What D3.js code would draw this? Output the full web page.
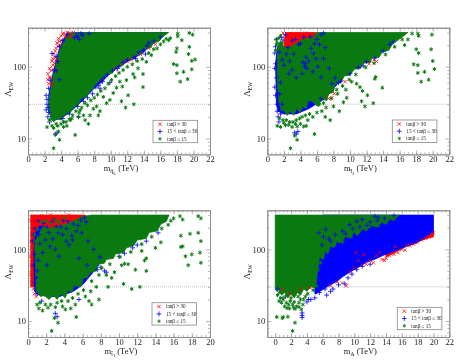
<!DOCTYPE html>
<html>
<head>
<meta charset="utf-8">
<script src="https://d3js.org/d3.v7.min.js"></script>
<style>
  html, body { margin: 0; padding: 0; background: #fff; }
  svg { display: block; filter: blur(0.5px); }
  text { font-family: "Liberation Serif", serif; fill: #222; }
</style>
</head>
<body>
<div id="chart"></div>
<script>
const legendLabels = ["tanβ > 30", "15 < tanβ ≤ 30", "tanβ ≤ 15"];
const yMajor = [10, 100];
const yMinor = [6, 7, 8, 9, 20, 30, 40, 50, 60, 70, 80, 90, 200, 300];
const yFine = 30;

// 外形轮廓 = 点太密读不出单点的区域，边界从图上估读 [m, Λ]
const p1BlueHull = [[2.5,24],[2.5,40],[2.9,70],[3.3,110],[3.7,165],[4.2,230],[4.8,295],[6,300],[16.8,300],[16,250],[15,205],[14,165],[13,135],[12,118],[11,100],[10,82],[9,64],[8,50],[7,38],[6,29],[5,23],[4,19],[3,18]];
const p1GreenHull = [[2.7,20],[2.5,30],[2.7,45],[3.1,80],[3.3,100],[3.7,150],[4,190],[4.5,240],[4.9,290],[7,300],[17,300],[16.3,262],[15.8,225],[15.1,215],[14.9,185],[14.1,178],[13.8,150],[13,146],[12.8,130],[11.8,124],[11.5,105],[10.6,98],[10.2,82],[9.4,76],[9.1,64],[8.4,60],[8.1,50],[7.5,47],[7.1,38],[6.4,36],[6,28],[5.5,27],[5,22],[4.5,22],[4,18],[3.5,19],[3.1,17]];
const p1Red = [[2.4,80],[2.6,95],[2.7,70],[2.9,120],[3.0,105],[3.1,150],[3.3,135],[3.4,180],[3.5,215],[3.7,245],[3.9,200],[4.0,270],[4.3,295],[4.6,280],[5.0,295],[5.2,260],[5.5,300],[12.0,118],[11.4,112],[12.5,125],[10.6,92],[13.6,148],[14.6,182],[15.4,205],[2.5,58],[2.9,55],[2.6,72],[2.8,88],[3.0,130],[3.2,112],[3.3,165],[3.6,195],[3.8,225],[4.1,235],[4.2,285],[4.5,260],[4.8,300],[5.1,275],[3.1,92],[3.4,125],[2.8,62],[2.4,66]];
const p1Blue = [[2.2,40],[2.3,30],[2.2,25],[2.4,20],[2.6,17],[2.5,50],[2.7,65],[2.9,153],[3.4,140],[3.8,190],[4.2,230],[4.7,280],[6,260],[6.2,240],[5.9,270],[6.4,290],[7.4,290],[16,260],[15.2,230],[14.6,215],[14,170],[13.4,160],[12.8,135],[12,125],[11,100],[10.2,88],[9.6,78],[8.7,60],[8.5,55],[8.9,65],[7.8,42],[7.2,37],[6.1,20],[4.2,19],[5,22],[13,130],[11.5,115],[10.8,95],[9.2,70],[6.7,33],[6,28],[3.3,11.5],[3.5,12],[9,62],[8.2,52],[14.2,150],[3.4,88],[3.8,66],[5.6,255],[6.6,275],[2.3,35],[2.4,27],[2.5,23],[13.9,165],[14.4,195],[9.9,60],[8.7,50],[3.2,90],[3.6,118]];
const p1Green = [[18.1,290],[18.1,265],[18.6,234],[19.5,295],[19.9,280],[17,234],[18,180],[17.9,161],[19.5,189],[19.4,150],[19.8,121],[20.2,126],[17.6,109],[18,105],[19.8,92],[18.8,85],[18,81],[19.3,67],[18.4,62],[12.9,71],[13.9,52],[13.9,79],[12.1,40],[11.8,27],[12.8,30],[11.3,33],[11.4,53],[11.1,62],[9.9,34.5],[9.5,31],[8.7,24],[7.9,26],[8.5,21],[7.3,16],[6.9,18],[5.7,11.2],[6.1,20],[4.7,15],[3.7,12.5],[3.8,9.6],[3.1,7.3],[3.3,11.3],[2.9,15],[2.3,14.4],[5.1,18],[6.3,25],[6.7,21],[7.5,21],[8.3,28],[9.1,38],[10.3,43],[10.7,51],[11.9,65],[12.7,79],[13.3,95],[14.3,117],[14.9,145],[15.6,180],[16.4,225],[17.2,250],[5.4,21],[4.3,14.5],[3.1,14],[3.4,16],[3.6,15],[4,16],[4.3,17],[4.6,17],[5,18.5],[5.3,19],[5.8,24],[6.2,23],[6.5,27],[6.9,31],[7.2,29],[7.6,34],[8,37],[8.4,41],[8.8,46],[9.3,50],[9.7,58],[10.1,65],[10.6,74],[11,82],[11.5,90],[12,100],[12.6,108],[13.2,120],[13.8,128],[14.6,155],[15.2,175],[16,205],[16.7,245],[2.6,18],[2.9,18.5]];

const p2RedHull = [[2,190],[2.2,300],[5.9,300],[6.3,295],[5.9,235],[4.2,185],[3,165]];
const p2BlueHull = [[1.1,30],[1,110],[1.2,185],[2,185],[3,170],[4.5,215],[5.8,245],[6.3,300],[8,200],[8.5,58],[7,36],[5,26],[3.5,22],[2,22],[1.3,24]];
const p2GreenHull = [[1.3,200],[1.6,230],[2,190],[2.4,185],[3,195],[3.5,210],[4.2,240],[5,250],[5.8,290],[6.2,300],[17,300],[16.5,270],[15.8,235],[15.1,205],[14.7,170],[13.9,160],[13.5,135],[12.6,132],[12.5,115],[11.6,112],[11.3,95],[10.5,92],[10,76],[9.3,74],[8.9,60],[8.2,58],[8,44],[7.4,42],[7.2,34],[6.5,35],[6.2,28],[5.9,29],[5.4,33],[5,34],[4.7,26],[4.3,28],[4,23],[3.5,26],[3.2,21],[2.8,24],[2.4,21],[2,25],[1.7,24],[1.4,33],[1.2,60],[1.2,120]];
const p2Red = [[2.2,250],[2.5,220],[2.8,290],[3.2,240],[3.6,290],[4,270],[4.6,295],[5.3,285],[5.6,270],[12.3,110],[13.2,118],[12.9,125],[9.4,62],[7.8,37],[7.4,36],[8.1,42],[1.9,295],[2.1,270]];
const p2Blue = [[1,190],[0.9,155],[1.1,240],[1,110],[0.9,95],[1.1,70],[0.9,52],[1,40],[1.2,30],[1.2,24],[1.3,20],[1.4,17],[1.6,22],[2.2,280],[3,230],[3.8,205],[4,210],[4.6,110],[4.5,100],[5.6,153],[5,120],[5.3,180],[6,240],[6.3,205],[7,185],[2.3,150],[2.7,120],[3.2,150],[2,105],[3.5,70],[4.2,80],[5.5,85],[6.5,72],[7.8,58],[8.6,60],[8.9,63],[10,80],[11,98],[11.6,103],[12,118],[13,132],[14,165],[14.8,205],[15.2,222],[3.3,12],[3.5,11.5],[3.7,12.5],[6.5,36],[1.5,160],[1.8,125],[2.5,185],[3.4,240],[4.4,260],[5.2,260],[5.7,210],[4.7,135],[4.3,115],[4.8,95],[5.9,130],[6.8,130],[7.5,95],[8.2,70],[2.6,80],[1.6,60],[1.5,42],[1.8,30],[3,90],[6.1,100],[1.7,255],[1.9,235],[6.5,280],[6.8,295]];
const p2Green = [[18.2,290],[18.3,270],[19.9,280],[18,175],[18.3,155],[19.8,175],[20,120],[20.2,93],[17.7,108],[18.2,105],[19,85],[18.2,82],[19.5,66],[18.6,62],[17.5,290],[17,240],[16.6,200],[13.9,51],[13,68],[13.1,72],[12.1,40],[11.4,33],[11.8,28],[12.8,31],[11.2,52],[11.5,46],[10.8,58],[10.2,62],[9.6,37],[9.2,32],[8.7,24],[8,28],[7.6,18],[7,20],[5.7,11.5],[4.4,14.7],[4,16],[3.6,9.6],[2.8,7.3],[3.3,11],[1.2,15],[1.6,14.5],[2.2,15.3],[3,14.5],[3.6,14.7],[4.7,15],[5.5,20],[6,23],[6.6,24],[7.1,27],[8.5,42],[9.5,48],[1.1,240],[1.1,205],[1,170],[1.5,19],[1.9,18],[2.3,18],[2.7,17],[3.1,17],[3.5,18],[3.9,19],[4.2,20],[4.6,21],[5.1,22],[2,16.5],[2.6,15.5],[3.4,16],[4.9,18],[6.3,30],[6.8,31],[7.7,36],[8.4,48],[9.1,54],[9.9,66],[10.7,78],[11.9,98],[12.9,112],[14.3,148],[15.4,190],[16.3,240],[1.4,250],[1.6,270],[1.8,215],[1.2,215]];

const p3RedHull = [[0.3,30],[0.3,300],[6.3,300],[6.2,280],[5,215],[3.3,175],[1.7,175],[0.9,105],[0.9,30]];
const p3BlueHull = [[0.7,26],[0.65,100],[0.8,170],[1.3,215],[2.5,190],[4,215],[5.3,250],[6.3,290],[7.8,60],[6,32],[5,26],[3.5,22],[2,22],[1,24]];
const p3GreenHull = [[0.9,27],[0.8,70],[0.75,110],[1,150],[1.7,210],[2.4,195],[3.3,210],[4.2,225],[5,250],[6.1,290],[7,300],[15.5,300],[15.2,245],[14.6,225],[14.2,180],[13.3,172],[13,142],[12,135],[11.6,112],[10.8,105],[10.5,90],[9.6,86],[9.4,75],[8.6,72],[8.4,64],[7.7,62],[7.5,50],[6.9,48],[6.5,40],[6.1,40],[5.8,30],[5.1,31],[4.8,25],[4.4,27],[4.1,21],[3.6,24],[3.2,20],[2.8,23],[2.3,20],[1.8,23],[1.4,22],[1,24]];
const p3Red = [[0.3,45],[0.4,60],[0.3,80],[0.4,105],[0.3,130],[0.4,165],[0.5,210],[0.3,250],[0.6,290],[1,260],[1.5,295],[2,280],[2.5,300],[3,270],[3.5,290],[4,265],[4.5,300],[5.2,290],[0.5,34],[0.6,28],[0.7,24],[0.9,22]];
const p3Blue = [[0.6,60],[0.7,85],[0.5,130],[0.6,160],[0.8,195],[1.1,250],[1.7,230],[2.1,205],[2.6,240],[3.1,210],[3.3,170],[3.8,160],[4.2,130],[4.5,115],[4.8,155],[5.3,180],[5.8,255],[6.4,240],[1.3,120],[1.6,90],[2.7,140],[3,100],[2.1,60],[5.6,75],[6.5,60],[7.6,52],[8,56],[8.4,50],[8.6,48],[10,80],[10.6,88],[11.5,105],[12,115],[13,130],[14.3,170],[0.9,40],[1,24],[1.5,19],[3,12.8],[3.2,11.5],[5.6,20],[1.2,160],[1.9,135],[2.3,170],[3.6,205],[4.4,245],[5,225],[5.5,215],[4.2,195],[4.9,135],[5.9,170],[6.6,130],[7.2,100],[7.9,78],[3.4,80],[2.4,110],[1.1,70],[1,50],[0.7,34],[6.2,275],[3.9,250],[2.9,260]];
const p3Green = [[16,270],[15.7,250],[15.4,220],[16.7,290],[17,260],[18.7,290],[19,270],[16.8,155],[17.8,165],[18.7,170],[19,130],[17,110],[18.9,90],[16.8,108],[17.3,80],[18,85],[19,65],[17.6,60],[13,75],[13,50],[14,105],[14.6,125],[12.8,70],[12.3,30],[11.4,28],[11.8,52],[10.5,33],[10.3,60],[11,62],[9.2,40],[8.8,30],[8.6,44],[7.8,20],[7,17],[6.7,19],[5.3,11.4],[4.1,14.5],[3.8,16],[3.3,9.5],[2.6,7.3],[2.9,11],[1.2,15],[1.6,14],[2.2,15.4],[3,15.6],[4.7,15],[5.2,17],[6.3,22],[6.9,26],[7.5,30],[9.5,48],[10.6,63],[12.5,95],[1,17],[1.5,240],[2,250],[3,255],[4,270],[1,190],[0.7,160],[0.8,130],[2.5,230],[3.4,240],[1.3,18],[1.9,17],[2.5,17],[3.2,18],[3.7,19],[4.4,19],[4.9,21],[5.5,24],[6.1,27],[7,36],[7.8,44],[8.1,55],[9,62],[10.1,78],[11.3,92],[12.5,118],[13.6,150],[14.7,195]];

const p4RedHull = [[14,78],[15,88],[16.5,110],[18,130],[20,150],[20,170],[17,150],[14,105]];
const p4BlueHull = [[5,24],[5.2,100],[6,300],[20,300],[20,168],[19.8,172],[18.8,140],[17.8,122],[16.8,112],[15.7,100],[14.6,90],[13.6,82],[12.5,72],[11.5,66],[10.5,56],[9.4,48],[8.6,42],[7.8,36],[7,32],[6.1,28],[5.2,24]];
const p4GreenHull = [[0,28],[0,300],[15.7,300],[14.9,255],[14.5,265],[13.9,225],[13.5,240],[12.8,205],[12.2,215],[11.5,180],[11.1,195],[10.4,155],[10,175],[9.4,145],[8.9,150],[8.2,122],[7.8,130],[7.4,105],[7,112],[6.7,90],[6.3,95],[6.1,72],[5.6,78],[5.45,58],[5.3,45],[5.2,35],[5,29],[4.5,30],[4,26],[3.6,28],[3.2,23],[2.8,25],[2.4,21],[2,24],[1.6,21],[1.2,25],[0.8,23],[0.4,28],[0.2,26]];
const p4Red = [[13.5,72],[13.8,70],[14,75],[14.4,82],[15,85],[15.5,90],[16,100],[16.4,97],[17,112],[17.5,118],[18,125],[18.5,135],[19,142],[19.4,150],[19.8,155],[20,170],[12,70],[11.5,62],[11,60],[10.5,70],[10,55],[9.5,48],[9,31],[8.5,34],[7.8,35],[7,31],[12.8,82],[13.2,90],[11.2,85],[10.2,90],[15.2,110],[16.6,115],[12.4,65],[0.9,28],[1.8,24],[3.2,28],[4.4,29]];
const p4Blue = [[5.6,25],[6,33],[6.5,23],[6.3,28],[7,26],[7.3,28],[8,32],[8.8,33],[9.2,40],[9.7,45],[10.3,52],[11,58],[12,62],[5,21],[4.5,20],[4,18.5],[3.4,13],[3.4,12],[3.4,11.2],[5.6,37],[6.8,39],[8.5,75],[9.2,95],[10.3,125],[11.5,150],[12.5,170],[13.2,185],[14,205],[0.3,28],[1,21],[5.5,170],[6.1,150],[6.4,190],[7,130],[8.5,180],[9.4,220],[10.3,245],[11,260],[12,240],[13,280],[13.8,270],[12.6,290],[15,295],[4.2,20],[5.9,115],[6.8,140],[7.6,160],[8.9,165],[9.8,195],[10.7,205],[11.6,215],[12.9,250],[6.3,60],[7.3,70],[8.1,68]];
const p4Green = [[0.2,11.4],[0.9,11],[1,11.4],[1.6,11.5],[2.5,9.5],[2.2,7.3],[3.3,14.5],[3,15.7],[2.5,14.8],[1.8,15],[1.2,16],[0.5,19],[0.3,23],[3.6,20],[4.1,24],[4.8,27],[5.2,31],[5.4,52],[5.7,65],[6,78],[6.6,92],[7.5,115],[8.5,128],[9.6,150],[10.3,170],[11.4,195],[13,215],[14,235],[15,262],[0.8,18],[1,20],[1.4,18],[1.7,17],[1.9,19],[2.2,17],[2.4,18.5],[2.7,16],[3,18],[3.2,20],[3.5,17],[3.8,22],[0.5,25],[1.3,22],[2,21],[2.9,22],[0.7,21],[2.3,15.5],[1.5,15.2]];

const panels = [
    { sym: "q̃", sub: "L", xDomain: [0, 22], xTicks: d3.range(0, 23, 2), left: 28, top: 27.7, legend: [125, 92.6],
      hulls: [null, p1BlueHull, p1GreenHull], pts: [p1Red, p1Blue, p1Green] },
    { sym: "t̃", sub: "2", xDomain: [0, 22], xTicks: d3.range(0, 23, 2), left: 267.3, top: 27.7, legend: [125, 92.3],
      hulls: [p2RedHull, p2BlueHull, p2GreenHull], pts: [p2Red, p2Blue, p2Green] },
    { sym: "t̃", sub: "1", xDomain: [0, 20], xTicks: d3.range(0, 21, 2), left: 28, top: 210.3, legend: [124, 92.4],
      hulls: [p3RedHull, p3BlueHull, p3GreenHull], pts: [p3Red, p3Blue, p3Green] },
    { sym: "", sub: "A", xDomain: [-1, 22], xTicks: d3.range(0, 23, 2), left: 267.3, top: 210.3, legend: [130, 97],
      hulls: [p4RedHull, p4BlueHull, p4GreenHull], pts: [p4Red, p4Blue, p4Green] }
];

const innerW = 182, innerH = 126.7;
const colors = ["#ff0000", "#0000ff", "#0a7a10"];
const shapes = [d3.symbolTimes, d3.symbolPlus, d3.symbolAsterisk];
const frame = "#888";

const svg = d3.select("#chart").append("svg").attr("width", 474).attr("height", 364);

function addTicks(g, axis, transform) {
    const a = g.append("g").attr("transform", transform).call(axis);
    a.select(".domain").attr("stroke", frame).attr("stroke-width", 0.8);
    a.selectAll(".tick line").attr("stroke", frame).attr("stroke-width", 0.6);
    a.selectAll("text").style("font-family", "Liberation Serif, serif").style("fill", "#222");
    return a;
}

panels.forEach(p => {
    const g = svg.append("g").attr("transform", `translate(${p.left},${p.top})`);
    const x = d3.scaleLinear().domain(p.xDomain).range([0, innerW]);
    const y = d3.scaleLog().domain([6, 350]).range([innerH, 0]);
    const hullLine = d3.line().x(d => x(d[0])).y(d => y(d[1]));

    // 参考线 Λ = 30
    g.append("line").attr("x1", 0).attr("x2", innerW).attr("y1", y(yFine)).attr("y2", y(yFine))
        .attr("stroke", "#999").attr("stroke-width", 0.6).attr("stroke-dasharray", "1,1");

    p.hulls.forEach((h, i) => {
        if (!h) return;
        g.append("path").attr("d", hullLine(h) + "Z").attr("fill", colors[i]).attr("stroke", colors[i]).attr("stroke-width", 0.8);
    });

    p.pts.forEach((pts, i) => {
        const sym = d3.symbol(shapes[i], i === 2 ? 11 : 9)();
        g.selectAll(null).data(pts).enter().append("path")
            .attr("d", sym)
            .attr("transform", d => `translate(${x(d[0])},${y(d[1])})`)
            .attr("fill", "none")
            .attr("stroke", colors[i])
            .attr("stroke-width", i === 2 ? 1 : 0.8);
    });

    // 四边刻度，主刻度带数字
    const xMinor = d3.range(Math.ceil(p.xDomain[0]), p.xDomain[1] + 0.01, 0.5);
    addTicks(g, d3.axisBottom(x).tickValues(p.xTicks).tickSizeInner(-4).tickSizeOuter(0).tickPadding(2).tickFormat(d3.format("d")), `translate(0,${innerH})`)
        .attr("font-size", 8.5);
    addTicks(g, d3.axisBottom(x).tickValues(xMinor).tickSizeInner(-2).tickSizeOuter(0).tickFormat(""), `translate(0,${innerH})`);
    addTicks(g, d3.axisTop(x).tickValues(p.xTicks).tickSizeInner(-4).tickSizeOuter(0).tickFormat(""), "translate(0,0)");
    addTicks(g, d3.axisTop(x).tickValues(xMinor).tickSizeInner(-2).tickSizeOuter(0).tickFormat(""), "translate(0,0)");
    addTicks(g, d3.axisLeft(y).tickValues(yMajor).tickSizeInner(-4).tickSizeOuter(0).tickPadding(2).tickFormat(d3.format("d")), "translate(0,0)")
        .attr("font-size", 8.5);
    addTicks(g, d3.axisLeft(y).tickValues(yMinor).tickSizeInner(-2).tickSizeOuter(0).tickFormat(""), "translate(0,0)");
    addTicks(g, d3.axisRight(y).tickValues(yMajor).tickSizeInner(-4).tickSizeOuter(0).tickFormat(""), `translate(${innerW},0)`);
    addTicks(g, d3.axisRight(y).tickValues(yMinor).tickSizeInner(-2).tickSizeOuter(0).tickFormat(""), `translate(${innerW},0)`);

    // 横轴标题
    const xt = g.append("text").attr("x", innerW / 2 + 2).attr("y", innerH + 17).attr("text-anchor", "middle").attr("font-size", 8.5);
    xt.append("tspan").text("m");
    if (p.sym) {
        xt.append("tspan").attr("font-size", 6).attr("dy", 2).text(p.sym);
        xt.append("tspan").attr("font-size", 4.5).attr("dy", 1.5).text(p.sub);
        xt.append("tspan").attr("dy", -3.5).text(" (TeV)");
    } else {
        xt.append("tspan").attr("font-size", 6).attr("dy", 2).text(p.sub);
        xt.append("tspan").attr("dy", -2).text(" (TeV)");
    }

    // 纵轴标题
    const yt = g.append("text").attr("transform", `translate(-17,${y(yFine) - 15}) rotate(-90)`).attr("text-anchor", "middle").attr("font-size", 9);
    yt.append("tspan").text("Λ");
    yt.append("tspan").attr("font-size", 5.5).attr("dy", 2).text("EW");

    // 图例
    const lg = g.append("g").attr("transform", `translate(${p.legend[0]},${p.legend[1]})`);
    lg.append("rect").attr("width", 44.6).attr("height", 22.4).attr("fill", "#fff").attr("stroke", frame).attr("stroke-width", 0.8);
    legendLabels.forEach((t, i) => {
        const ly = 3.9 + i * 7.3;
        lg.append("path").attr("d", d3.symbol(shapes[i], 9)()).attr("transform", `translate(7,${ly})`)
            .attr("fill", "none").attr("stroke", colors[i]).attr("stroke-width", 0.8);
        lg.append("text").attr("x", 14).attr("y", ly + 1.8).attr("font-size", 5.2).text(t);
    });
});
</script>
</body>
</html>
